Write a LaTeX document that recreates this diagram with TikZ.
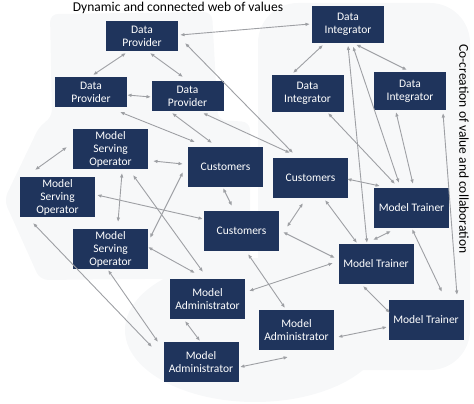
\documentclass[tikz,border=0pt]{standalone}
\usepackage{fontspec}
\setmainfont{Carlito}
\usetikzlibrary{arrows.meta,calc}
\definecolor{navy}{RGB}{31,52,92}
\definecolor{bgc}{RGB}{247,248,249}
\definecolor{lnc}{RGB}{158,160,164}
\begin{document}
\begin{tikzpicture}[x=1pt,y=-1pt,
  box/.style={fill=navy,text=white,align=center,inner sep=0pt,
    minimum width=75pt,minimum height=40pt,
    font=\fontsize{11.5}{13}\selectfont},
  small/.style={minimum width=72pt,minimum height=30pt},
  mid/.style={minimum width=72pt,minimum height=37pt},
  link/.style={draw=lnc,line width=0.9pt,{Latex[length=4.5pt,width=3.6pt]}-{Latex[length=4.5pt,width=3.6pt]}},
  ttl/.style={font=\fontsize{13.5}{15}\selectfont,text=black}]
\useasboundingbox (0,0) rectangle (474,404);
\clip (0,0) rectangle (474,404);
% faint background
\fill[bgc,rounded corners=8] (50,14) -- (212,12) -- (218,120) -- (250,122) -- (250,278) -- (40,280) -- (4,200) -- (40,125) -- (52,118) -- cycle;
\fill[bgc] (255,330) ellipse [x radius=130, y radius=72];
\fill[bgc,rounded corners=40] (258,3) rectangle (470,370);
% titles
\node[ttl,anchor=base] (title) at (178,11.5) {Dynamic and connected web of values};
\node[ttl,rotate=-90] (side) at (464,149) {Co-creation of value and collaboration};
% nodes
\node[box,small] (DP1) at (142,36) {Data\\Provider};
\node[box,small] (DP2) at (91,92) {Data\\Provider};
\node[box,small] (DP3) at (187.5,96) {Data\\Provider};
\node[box,mid] (DI1) at (348,24.5) {Data\\Integrator};
\node[box,mid] (DI2) at (307.5,93.5) {Data\\Integrator};
\node[box,mid] (DI3) at (410,91) {Data\\Integrator};
\node[box] (MSO1) at (110.5,149) {Model\\Serving\\Operator};
\node[box] (MSO2) at (57.5,197) {Model\\Serving\\Operator};
\node[box] (MSO3) at (110.5,249) {Model\\Serving\\Operator};
\node[box] (C1) at (225.5,167) {Customers};
\node[box] (C2) at (310.5,178) {Customers};
\node[box] (C3) at (241.5,231) {Customers};
\node[box] (MT1) at (411.5,208) {Model Trainer};
\node[box] (MT2) at (376,264) {Model Trainer};
\node[box] (MT3) at (426,320) {Model Trainer};
\node[box] (MA1) at (207.5,299) {Model\\Administrator};
\node[box] (MA2) at (201,362) {Model\\Administrator};
\node[box] (MA3) at (296.5,330) {Model\\Administrator};
\coordinate (free) at (288,357);
% connectors
\draw[link] ($(DP1)+(38,-1)$) -- ($(DI1)+(-38,-0.5)$);
\draw[link] ($(DP1)+(-16,17)$) -- ($(DP2)+(2,-17)$);
\draw[link] ($(DP1)+(8,17)$) -- ($(DP3)+(-4.5,-19)$);
\draw[link] ($(DP2)+(36,3)$) -- ($(DP3)+(-36.5,1)$);
\draw[link] ($(DP1)+(43,7)$) -- ($(C2)+(-17.5,-25)$);
\draw[link] ($(DP2)+(29,20)$) -- ($(C1)+(-30.5,-25)$);
\draw[link] ($(DP3)+(-15.5,17)$) -- ($(C1)+(-13.5,-24)$);
\draw[link] ($(DP3)+(15.5,17)$) -- ($(C2)+(-20.5,-25)$);
\draw[link] ($(DI1)+(-25,20.5)$) -- ($(DI2)+(-14.5,-20.5)$);
\draw[link] ($(DI1)+(8,20)$) -- ($(DI3)+(-3,-21)$);
\draw[link] ($(DI1)+(0,21)$) -- ($(MT2)+(-9,-21)$);
\draw[link] ($(DI1)+(5,22)$) -- ($(MT1)+(-12.5,-25)$);
\draw[link] ($(DI2)+(20.5,19.5)$) -- ($(MT1)+(-16.5,-24)$);
\draw[link] ($(DI3)+(-14,21)$) -- ($(MT1)+(1.5,-24)$);
\draw[link] ($(DI3)+(33,22)$) -- ($(MT3)+(31,-25)$);
\draw[link] ($(C2)+(36.5,1)$) -- ($(MT1)+(-31.5,-22)$);
\draw[link] ($(C2)+(-7.5,25)$) -- ($(C3)+(45.5,-4)$);
\draw[link] ($(C2)+(14.5,22)$) -- ($(MT2)+(-19,-21)$);
\draw[link] ($(C1)+(-2.5,21)$) -- ($(C3)+(-9.5,-25)$);
\draw[link] ($(MSO1)+(42.5,12)$) -- ($(C1)+(-42.5,-3)$);
\draw[link] ($(MSO1)+(-43.5,-2)$) -- ($(MSO2)+(-22.5,-27)$);
\draw[link] ($(MSO1)+(11.5,24)$) -- ($(MSO3)+(7.5,-27)$);
\draw[link] ($(MSO2)+(39.5,-2)$) -- ($(C3)+(-38.5,-12)$);
\draw[link] ($(MSO3)+(39.5,-11)$) -- ($(C1)+(-42.5,5)$);
\draw[link] ($(MSO1)+(22.5,26)$) -- ($(MA1)+(-4.5,-27)$);
\draw[link] ($(MSO3)+(37.5,-2)$) -- ($(MA1)+(-12.5,-26)$);
\draw[link] ($(MSO2)+(-24.5,26)$) -- ($(MA2)+(-49,-15)$);
\draw[link] ($(MSO3)+(-2.5,21)$) -- ($(MA2)+(-43,-20)$);
\draw[link] ($(C3)+(41.5,1)$) -- ($(MT2)+(-41,-6)$);
\draw[link] ($(C3)+(6.5,23)$) -- ($(MA3)+(-11.5,-22)$);
\draw[link] ($(MT2)+(-43,-1)$) -- ($(MA1)+(41.5,-8)$);
\draw[link] ($(MT1)+(-20.5,23)$) -- ($(MT2)+(-3,-24)$);
\draw[link] ($(MT1)+(0.5,21)$) -- ($(MT3)+(16,-28)$);
\draw[link] ($(MT2)+(-13,22)$) -- ($(MT3)+(-36,-7)$);
\draw[link] ($(MA3)+(41.5,7)$) -- ($(MT3)+(-39,7)$);
\draw[link] ($(MA1)+(-22.5,22)$) -- ($(MA2)+(-1,-21)$);
\draw[link] ($(MA2)+(39,5)$) -- (free);
\end{tikzpicture}
\end{document}
